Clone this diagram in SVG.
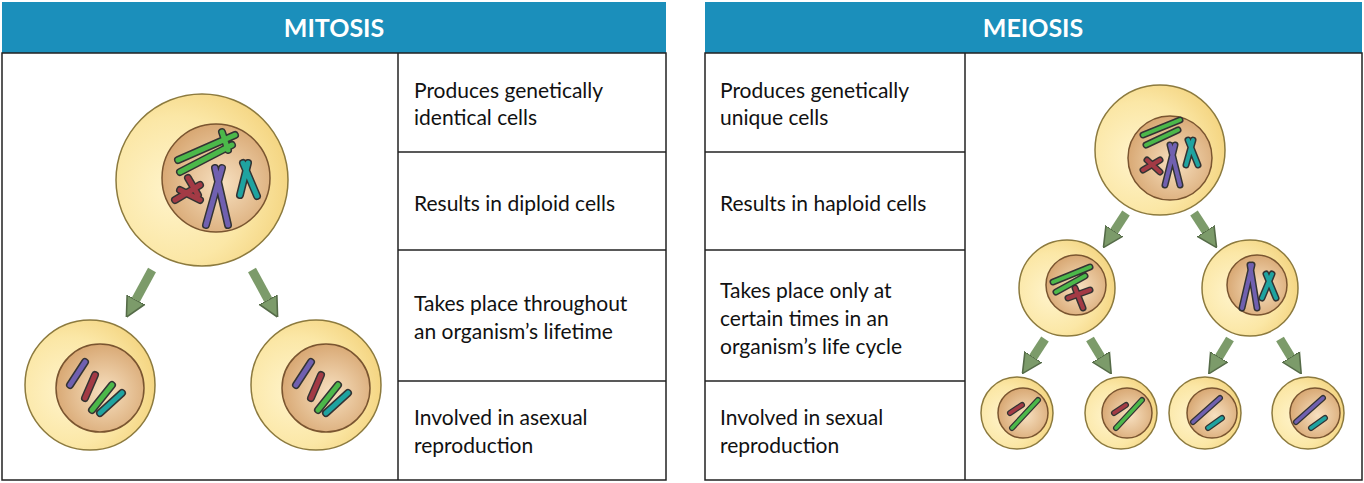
<svg xmlns="http://www.w3.org/2000/svg" width="1364" height="483" viewBox="0 0 1364 483">
<defs>
<radialGradient id="cg" cx="0.35" cy="0.55" r="0.7"><stop offset="0" stop-color="#fff4cc"/><stop offset="0.6" stop-color="#fbe7a6"/><stop offset="1" stop-color="#f3d27c"/></radialGradient>
<radialGradient id="ng" cx="0.55" cy="0.55" r="0.6"><stop offset="0" stop-color="#f7e0c0"/><stop offset="1" stop-color="#d6a46e"/></radialGradient>
<marker id="ah" viewBox="0 0 10 10" refX="3" refY="5" markerWidth="2.2" markerHeight="2.6" orient="auto"><path d="M0,0 L10,5 L0,10 Z" fill="#7c9b6a" stroke="#556b48" stroke-width="0.8"/></marker>
</defs>
<style>
.hdr{fill:#1b8fbb}
.ht{font-family:"Lato","Open Sans",sans-serif;font-weight:bold;font-size:25px;fill:#fff;text-anchor:middle}
.t{font-family:"Lato","Open Sans",sans-serif;font-size:21px;fill:#111}
.bd{fill:none;stroke:#222;stroke-width:1.5}
.cell{fill:url(#cg);stroke:#8c7a3e;stroke-width:1.5}
.nuc{fill:url(#ng);stroke:#7a5530;stroke-width:1.5}
.arr{stroke:#7c9b6a;stroke-width:9;fill:none;marker-end:url(#ah)}
.o{fill:none;stroke:#333;stroke-linecap:round;stroke-linejoin:round}
.g{fill:none;stroke:#4cb84a;stroke-linecap:round}
.r{fill:none;stroke:#a33a45;stroke-linecap:round}
.p{fill:none;stroke:#7060b0;stroke-linecap:round}
.c{fill:none;stroke:#1fa3a0;stroke-linecap:round}
</style>
<g id="mitosis-panel">
<rect x="2" y="2" width="664" height="51" class="hdr"/>
<text x="334" y="37" class="ht">MITOSIS</text>
<rect x="2" y="53" width="664" height="427" class="bd"/>
<line x1="398" y1="53" x2="398" y2="480" class="bd"/>
<line x1="398" y1="152" x2="666" y2="152" class="bd"/>
<line x1="398" y1="250" x2="666" y2="250" class="bd"/>
<line x1="398" y1="381" x2="666" y2="381" class="bd"/>
<text class="t" x="414" y="98">Produces genetically</text>
<text class="t" x="414" y="125">identical cells</text>
<text class="t" x="414" y="211">Results in diploid cells</text>
<text class="t" x="414" y="311">Takes place throughout</text>
<text class="t" x="414" y="339">an organism’s lifetime</text>
<text class="t" x="414" y="425">Involved in asexual</text>
<text class="t" x="414" y="453">reproduction</text>
</g>
<g id="meiosis-panel">
<rect x="705" y="2" width="657" height="51" class="hdr"/>
<text x="1033" y="37" class="ht">MEIOSIS</text>
<rect x="705" y="53" width="657" height="427" class="bd"/>
<line x1="965" y1="53" x2="965" y2="480" class="bd"/>
<line x1="705" y1="152" x2="965" y2="152" class="bd"/>
<line x1="705" y1="250" x2="965" y2="250" class="bd"/>
<line x1="705" y1="381" x2="965" y2="381" class="bd"/>
<text class="t" x="720" y="98">Produces genetically</text>
<text class="t" x="720" y="125">unique cells</text>
<text class="t" x="720" y="211">Results in haploid cells</text>
<text class="t" x="720" y="298">Takes place only at</text>
<text class="t" x="720" y="326">certain times in an</text>
<text class="t" x="720" y="354">organism’s life cycle</text>
<text class="t" x="720" y="425">Involved in sexual</text>
<text class="t" x="720" y="453">reproduction</text>
</g>
<g id="connectors">
<line x1="152" y1="270" x2="133" y2="305" class="arr"/>
<line x1="252" y1="270" x2="271" y2="305" class="arr"/>
<line x1="1126" y1="213" x2="1111" y2="236" class="arr"/>
<line x1="1194" y1="213" x2="1209" y2="236" class="arr"/>
<line x1="1045" y1="339" x2="1030" y2="362" class="arr"/>
<line x1="1090" y1="339" x2="1104" y2="362" class="arr"/>
<line x1="1230" y1="339" x2="1216" y2="362" class="arr"/>
<line x1="1280" y1="339" x2="1294" y2="362" class="arr"/>
</g>
<g id="mitosis-parent">
<circle cx="202" cy="180" r="86" class="cell"/>
<circle cx="216" cy="178" r="54" class="nuc"/>
<path d="M178,160 L235,135 M180,172 L232,145 M222,132 L228,150" class="o" stroke-width="8"/>
<path d="M178,160 L235,135 M180,172 L232,145 M222,132 L228,150" class="g" stroke-width="5"/>
<path d="M175,200 L200,185 M180,190 L200,200 M188,178 L198,195" class="o" stroke-width="8"/>
<path d="M175,200 L200,185 M180,190 L200,200 M188,178 L198,195" class="r" stroke-width="5"/>
<path d="M206,225 L222,168 M228,225 L215,168" class="o" stroke-width="8"/>
<path d="M206,225 L222,168 M228,225 L215,168" class="p" stroke-width="5"/>
<path d="M240,195 L248,163 M257,196 L243,163" class="o" stroke-width="8"/>
<path d="M240,195 L248,163 M257,196 L243,163" class="c" stroke-width="5"/>
</g>
<g id="mitosis-daughter-left">
<circle cx="90" cy="385" r="65" class="cell"/>
<circle cx="100" cy="388" r="44" class="nuc"/>
<path d="M70,385 L85,362 M85,398 L95,375 M92,410 L112,385 M100,413 L122,393" class="o" stroke-width="8"/>
<path d="M70,385 L85,362" class="p" stroke-width="5"/><path d="M85,398 L95,375" class="r" stroke-width="5"/><path d="M92,410 L112,385" class="g" stroke-width="5"/><path d="M100,413 L122,393" class="c" stroke-width="5"/>
</g>
<g id="mitosis-daughter-right">
<circle cx="316" cy="385" r="65" class="cell"/>
<circle cx="326" cy="388" r="44" class="nuc"/>
<path d="M296,385 L311,362 M311,398 L321,375 M318,410 L338,385 M326,413 L348,393" class="o" stroke-width="8"/>
<path d="M296,385 L311,362" class="p" stroke-width="5"/><path d="M311,398 L321,375" class="r" stroke-width="5"/><path d="M318,410 L338,385" class="g" stroke-width="5"/><path d="M326,413 L348,393" class="c" stroke-width="5"/>
</g>
<g id="meiosis-parent">
<circle cx="1160" cy="150" r="65" class="cell"/>
<circle cx="1170" cy="158" r="42" class="nuc"/>
<path d="M1143,135 L1180,120 M1146,145 L1178,130" class="o" stroke-width="7"/>
<path d="M1143,135 L1180,120 M1146,145 L1178,130" class="g" stroke-width="4"/>
<path d="M1143,170 L1160,160 M1147,160 L1160,172" class="o" stroke-width="7"/>
<path d="M1143,170 L1160,160 M1147,160 L1160,172" class="r" stroke-width="4"/>
<path d="M1165,185 L1175,145 M1180,185 L1170,145" class="o" stroke-width="7"/>
<path d="M1165,185 L1175,145 M1180,185 L1170,145" class="p" stroke-width="4"/>
<path d="M1186,165 L1193,140 M1198,165 L1188,140" class="o" stroke-width="7"/>
<path d="M1186,165 L1193,140 M1198,165 L1188,140" class="c" stroke-width="4"/>
</g>
<g id="meiosis-mid-left">
<circle cx="1067" cy="288" r="48" class="cell"/>
<circle cx="1076" cy="285" r="30" class="nuc"/>
<path d="M1053,282 L1090,267 M1056,292 L1085,276" class="o" stroke-width="7"/>
<path d="M1053,282 L1090,267 M1056,292 L1085,276" class="g" stroke-width="4"/>
<path d="M1068,298 L1090,290 M1075,288 L1083,308" class="o" stroke-width="7"/>
<path d="M1068,298 L1090,290 M1075,288 L1083,308" class="r" stroke-width="4"/>
</g>
<g id="meiosis-mid-right">
<circle cx="1250" cy="288" r="48" class="cell"/>
<circle cx="1257" cy="285" r="30" class="nuc"/>
<path d="M1242,308 L1252,265 M1257,308 L1250,265" class="o" stroke-width="7"/>
<path d="M1242,308 L1252,265 M1257,308 L1250,265" class="p" stroke-width="4"/>
<path d="M1262,298 L1272,274 M1276,298 L1266,274" class="o" stroke-width="7"/>
<path d="M1262,298 L1272,274 M1276,298 L1266,274" class="c" stroke-width="4"/>
</g>
<g id="meiosis-cell-1">
<circle cx="1017" cy="413" r="36" class="cell"/>
<circle cx="1023" cy="413" r="25" class="nuc"/>
<path d="M1010,413 L1022,405 M1012,428 L1038,400" class="o" stroke-width="6"/>
<path d="M1010,413 L1022,405" class="r" stroke-width="3.5"/><path d="M1012,428 L1038,400" class="g" stroke-width="3.5"/>
</g>
<g id="meiosis-cell-2">
<circle cx="1121" cy="413" r="36" class="cell"/>
<circle cx="1127" cy="413" r="25" class="nuc"/>
<path d="M1114,413 L1126,405 M1116,428 L1142,400" class="o" stroke-width="6"/>
<path d="M1114,413 L1126,405" class="r" stroke-width="3.5"/><path d="M1116,428 L1142,400" class="g" stroke-width="3.5"/>
</g>
<g id="meiosis-cell-3">
<circle cx="1205" cy="413" r="36" class="cell"/>
<circle cx="1212" cy="413" r="25" class="nuc"/>
<path d="M1193,422 L1220,398 M1208,428 L1222,418" class="o" stroke-width="6"/>
<path d="M1193,422 L1220,398" class="p" stroke-width="3.5"/><path d="M1208,428 L1222,418" class="c" stroke-width="3.5"/>
</g>
<g id="meiosis-cell-4">
<circle cx="1308" cy="413" r="36" class="cell"/>
<circle cx="1315" cy="413" r="25" class="nuc"/>
<path d="M1296,422 L1323,398 M1311,428 L1325,418" class="o" stroke-width="6"/>
<path d="M1296,422 L1323,398" class="p" stroke-width="3.5"/><path d="M1311,428 L1325,418" class="c" stroke-width="3.5"/>
</g>
</svg>
